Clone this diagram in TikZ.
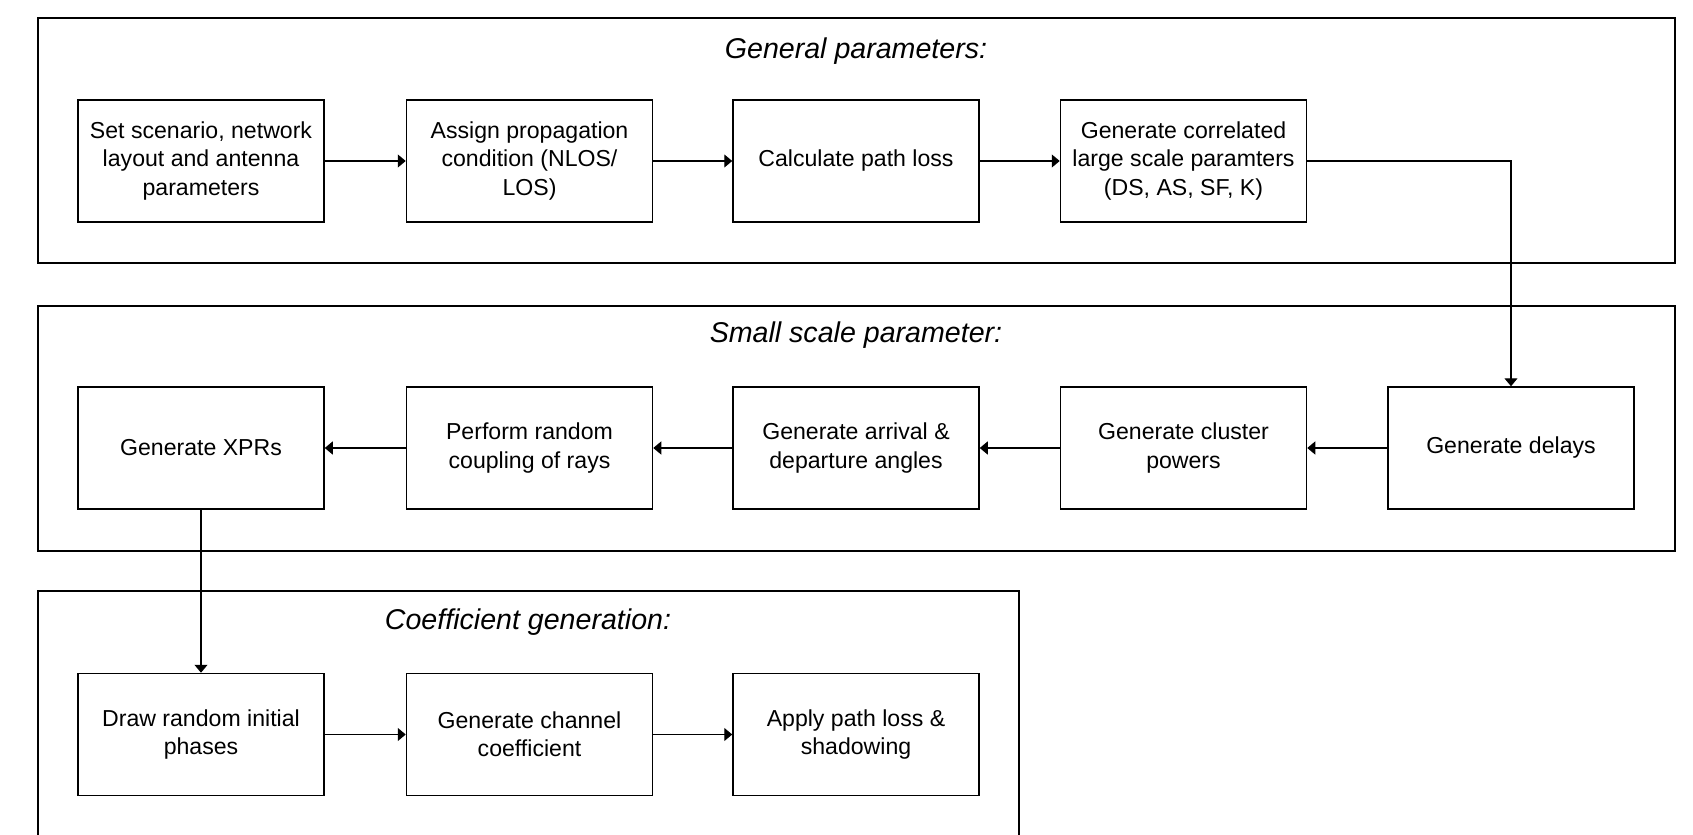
\documentclass[tikz,border=0pt]{standalone}
\usepackage{fontspec}
\setmainfont{Liberation Sans}
\usetikzlibrary{arrows.meta}
\begin{document}
\begin{tikzpicture}[x=0.5pt,y=-0.5pt,
  stepbox/.style={draw=black,line width=0.75pt,minimum width=123pt,minimum height=61pt,inner sep=0pt,align=center,font=\fontsize{11.55}{14.2}\selectfont},
  frame/.style={draw=black,line width=0.75pt},
  title/.style={font=\fontsize{14.3}{17}\selectfont\itshape,inner sep=0pt},
  arr/.style={draw=black,line width=0.6pt,-{Triangle[length=4pt,width=6.5pt]}}]
\useasboundingbox (0,0) rectangle (1693,835);
% frames
\draw[frame] (38,18) rectangle (1675,263);
\draw[frame] (38,306) rectangle (1675,551);
\draw[frame] (38,836) -- (38,591) -- (1019,591) -- (1019,836);
\node[title] (t1) at (856,51.5) {General parameters:};
\node[title] (t2) at (856,335) {Small scale parameter:};
\node[title] (t3) at (528,622) {Coefficient generation:};
% row 1
\node[stepbox] (b1) at (201,161) {Set scenario, network\\layout and antenna\\parameters};
\node[stepbox] (b2) at (529.5,161) {Assign propagation\\condition (NLOS/\\LOS)};
\node[stepbox] (b3) at (856,161) {Calculate path loss};
\node[stepbox] (b4) at (1183.5,161) {Generate correlated\\large scale paramters\\(DS, AS, SF, K)};
% row 2
\node[stepbox] (c1) at (201,448) {Generate XPRs};
\node[stepbox] (c2) at (529.5,448) {Perform random\\coupling of rays};
\node[stepbox] (c3) at (856,448) {Generate arrival \&\\departure angles};
\node[stepbox] (c4) at (1183.5,448) {Generate cluster\\powers};
\node[stepbox] (c5) at (1511,448) {Generate delays};
% row 3
\node[stepbox] (d1) at (201,734.5) {Draw random initial\\phases};
\node[stepbox] (d2) at (529.5,734.5) {Generate channel\\coefficient};
\node[stepbox] (d3) at (856,734.5) {Apply path loss \&\\shadowing};
% connectors
\draw[arr] (b1) -- (b2);
\draw[arr] (b2) -- (b3);
\draw[arr] (b3) -- (b4);
\draw[arr] (b4.east) -| (c5.north);
\draw[arr] (c5) -- (c4);
\draw[arr] (c4) -- (c3);
\draw[arr] (c3) -- (c2);
\draw[arr] (c2) -- (c1);
\draw[arr] (c1) -- (d1);
\draw[arr] (d1) -- (d2);
\draw[arr] (d2) -- (d3);
\end{tikzpicture}
\end{document}
